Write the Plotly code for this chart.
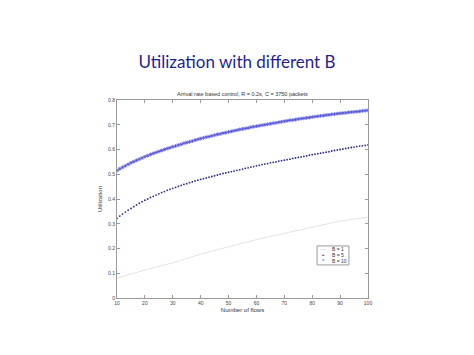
import plotly.graph_objects as go

flows = list(range(10, 101))

util_b10 = [0.515, 0.522, 0.528, 0.534, 0.540, 0.546, 0.551, 0.556, 0.561, 0.566,
            0.571, 0.575, 0.580, 0.584, 0.588, 0.592, 0.596, 0.600, 0.604, 0.607,
            0.611, 0.614, 0.618, 0.621, 0.625, 0.628, 0.631, 0.634, 0.638, 0.641,
            0.644, 0.647, 0.650, 0.652, 0.655, 0.658, 0.661, 0.663, 0.666, 0.668,
            0.671, 0.673, 0.676, 0.678, 0.681, 0.683, 0.685, 0.687, 0.690, 0.692,
            0.694, 0.696, 0.698, 0.700, 0.702, 0.704, 0.706, 0.708, 0.710, 0.712,
            0.714, 0.716, 0.718, 0.719, 0.721, 0.723, 0.725, 0.726, 0.728, 0.729,
            0.731, 0.733, 0.734, 0.736, 0.737, 0.739, 0.740, 0.742, 0.743, 0.745,
            0.746, 0.747, 0.748, 0.750, 0.751, 0.752, 0.753, 0.754, 0.756, 0.757,
            0.758]

util_b5 = [0.322, 0.331, 0.339, 0.347, 0.355, 0.362, 0.369, 0.376, 0.383, 0.389,
           0.395, 0.400, 0.406, 0.411, 0.416, 0.421, 0.426, 0.430, 0.435, 0.439,
           0.443, 0.447, 0.451, 0.455, 0.459, 0.462, 0.466, 0.469, 0.473, 0.476,
           0.479, 0.482, 0.485, 0.488, 0.491, 0.494, 0.497, 0.500, 0.503, 0.505,
           0.508, 0.511, 0.513, 0.516, 0.518, 0.521, 0.524, 0.526, 0.529, 0.531,
           0.534, 0.536, 0.539, 0.541, 0.543, 0.546, 0.548, 0.550, 0.553, 0.555,
           0.557, 0.559, 0.561, 0.564, 0.566, 0.568, 0.570, 0.572, 0.574, 0.577,
           0.579, 0.581, 0.583, 0.585, 0.587, 0.589, 0.591, 0.594, 0.596, 0.598,
           0.600, 0.602, 0.604, 0.606, 0.608, 0.610, 0.612, 0.614, 0.615, 0.617,
           0.619]

flows_b1 = [10, 20, 30, 40, 50, 60, 70, 80, 90, 100]
util_b1 = [0.080, 0.113, 0.142, 0.177, 0.207, 0.236, 0.261, 0.287, 0.311, 0.327]

x_ticks = [10, 20, 30, 40, 50, 60, 70, 80, 90, 100]
y_ticks = [0, 0.1, 0.2, 0.3, 0.4, 0.5, 0.6, 0.7, 0.8]
y_tick_labels = ["0", "0.1", "0.2", "0.3", "0.4", "0.5", "0.6", "0.7", "0.8"]
legend_labels = ["B = 1", "B = 5", "B = 10"]

fig = go.Figure()
fig.add_trace(go.Scatter(x=flows_b1, y=util_b1, mode="lines", name=legend_labels[0],
                         line=dict(color="#e4e4dc", width=1)))
fig.add_trace(go.Scatter(x=flows, y=util_b5, mode="markers", name=legend_labels[1],
                         marker=dict(color="#2a2a80", size=1.8)))
fig.add_trace(go.Scatter(x=flows, y=util_b10, mode="markers", name=legend_labels[2],
                         marker=dict(symbol="asterisk-open", size=3.2, color="#5050d8",
                                     line=dict(color="#5050d8", width=0.8))))

axis_common = dict(showline=True, linecolor="#9a9a9a", linewidth=1, mirror="ticks",
                   ticks="inside", ticklen=3, tickcolor="#9a9a9a", showgrid=False,
                   zeroline=False, tickfont=dict(size=5, color="#444", family="Liberation Sans"))

fig.update_xaxes(range=[10, 100], tickvals=x_ticks, ticktext=[str(v) for v in x_ticks],
                 title=dict(text="Number of flows", font=dict(size=6, color="#333", family="Liberation Sans"),
                            standoff=2),
                 **axis_common)
fig.update_yaxes(range=[0, 0.8], tickvals=y_ticks, ticktext=y_tick_labels,
                 title=dict(text="Utilization", font=dict(size=6, color="#333", family="Liberation Sans"),
                            standoff=4),
                 **axis_common)

annotations = [
    dict(text="Arrival rate based control, R = 0.2s, C = 3750 packets", x=0.5, y=1.0,
         xref="paper", yref="paper", xanchor="center", yanchor="bottom", yshift=1,
         showarrow=False, font=dict(size=5.5, color="#333", family="Liberation Sans")),
]

# legend box (custom, compact like the original)
lx0, lx1, ly0, ly1 = 0.797, 0.924, 0.167, 0.263
shapes = [dict(type="rect", xref="paper", yref="paper", x0=lx0, x1=lx1, y0=ly0, y1=ly1,
               line=dict(color="#9a9a9a", width=1), fillcolor="white")]
row_y = [ly1 - 0.018, ly1 - 0.048, ly1 - 0.078]
sym = ["<span style='color:#d0d0c8'>—</span>", "<span style='color:#2a2a80'>•</span>",
       "<span style='color:#5050d8'>*</span>"]
for i, lab in enumerate(legend_labels):
    annotations.append(dict(text=sym[i], x=lx0 + 0.025, y=row_y[i], xref="paper", yref="paper",
                            xanchor="center", yanchor="middle", showarrow=False,
                            font=dict(size=6, family="Liberation Sans")))
    annotations.append(dict(text=lab, x=lx0 + 0.05, y=row_y[i], xref="paper", yref="paper",
                            xanchor="left", yanchor="middle", showarrow=False,
                            font=dict(size=5, color="#333", family="Liberation Sans")))

fig.update_layout(
    width=474, height=355,
    margin=dict(l=117, r=106, t=100, b=57),
    paper_bgcolor="white", plot_bgcolor="white",
    showlegend=False,
    title=dict(text="Utilization with different B", x=0.5, xanchor="center",
               y=1 - 62 / 355, yanchor="middle", yref="container",
               font=dict(size=17, color="#1f1f8f", family="Comic Sans MS, Lato, sans-serif")),
    annotations=annotations,
    shapes=shapes,
)

fig.write_html("out.html")
